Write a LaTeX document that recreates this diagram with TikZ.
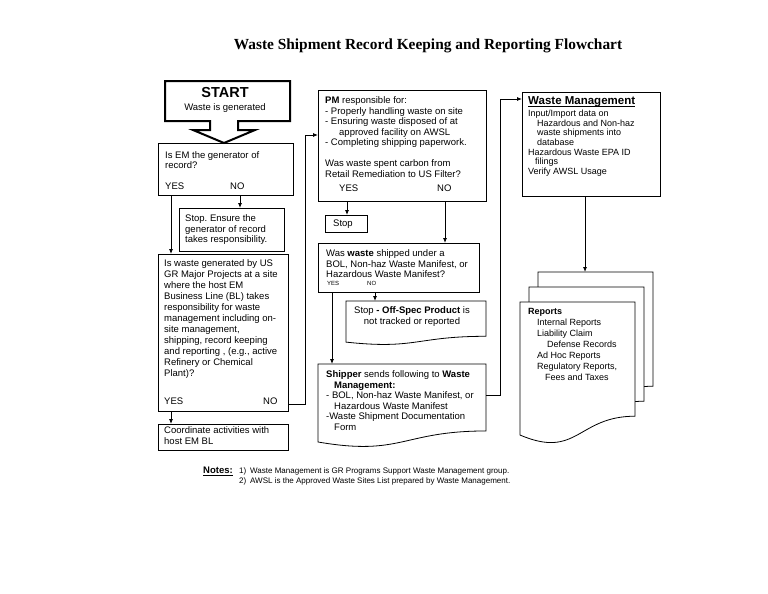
\documentclass[tikz,border=0pt]{standalone}
\usepackage{fontspec}
\setmainfont{Liberation Sans}
\newfontfamily\titlefont{Liberation Serif}
\usetikzlibrary{arrows.meta,calc}
\frenchspacing
\newcommand\docshape[4]{%
  \draw[line width=0.8pt, fill=white] (#1,#2) -- ({#1+#3},#2) -- ({#1+#3},{#2+0.802*#4})
    .. controls ({#1+#3/2},{#2+0.802*#4}) and ({#1+#3/2},{#2+1.107*#4}) .. (#1,{#2+0.934*#4}) -- cycle;}
\begin{document}
\begin{tikzpicture}[x=1pt,y=-1pt,
  box/.style={draw, line width=0.8pt, rectangle, inner sep=0pt, anchor=north west},
  area/.style={rectangle, inner sep=0pt, anchor=north west},
  txt/.style={inner sep=0pt, anchor=north west, align=left, font=\fontsize{9.5}{10.5}\selectfont},
  txtb/.style={inner sep=0pt, anchor=base west, font=\fontsize{9.5}{10.5}\selectfont},
  small/.style={inner sep=0pt, anchor=north west, align=left, font=\fontsize{9}{9.6}\selectfont},
  tiny/.style={inner sep=0pt, anchor=base west, font=\fontsize{6}{7}\selectfont},
  note/.style={inner sep=0pt, anchor=base west, font=\fontsize{8}{9}\selectfont},
  arr/.style={line width=0.8pt, -{Latex[length=5pt,width=4pt]}},
]
\useasboundingbox (0,0) rectangle (768,594);

% title
\node[inner sep=0pt, anchor=base, font=\titlefont\bfseries\fontsize{15.4}{18}\selectfont] (title) at (428,49)
  {Waste Shipment Record Keeping and Reporting Flowchart};

% START block arrow
\node[area, minimum width=125, minimum height=40] (start) at (165,81) {};
\draw[line width=2pt, line join=miter] (165,81) -- (290,81) -- (290,121) -- (238,121) -- (238,130) -- (255,130)
  -- (224,143) -- (193,130) -- (210,130) -- (210,121) -- (165,121) -- cycle;
\node[inner sep=0pt, anchor=base, font=\bfseries\fontsize{14.5}{16}\selectfont] (startt) at (225,97) {START};
\node[inner sep=0pt, anchor=base, font=\fontsize{9.5}{11}\selectfont] (startw) at (225,110) {Waste is generated};

% EM generator question
\node[box, minimum width=135, minimum height=52] (em) at (158,143) {};
\node[txt] (emt) at (165,151) {Is EM the generator of\\record?};
\node[txtb] (emyes) at (165,189.5) {YES};
\node[txtb] (emno) at (230,189.5) {NO};

% stop: ensure generator
\node[box, minimum width=105, minimum height=43] (stop) at (179,208) {};
\node[txt] (stopt) at (185,214.5) {Stop. Ensure the\\generator of record\\takes responsibility.};

% US GR major projects question
\node[box, minimum width=130, minimum height=157] (q2) at (158,254) {};
\node[txt, font=\fontsize{9.5}{11}\selectfont] (q2t) at (164,259.5) {Is waste generated by US\\GR Major Projects at a site\\where the host EM\\Business Line (BL) takes\\responsibility for waste\\management including on-\\site management,\\shipping, record keeping\\and reporting , (e.g., active\\Refinery or Chemical\\Plant)?};
\node[txtb] (q2yes) at (164,404.5) {YES};
\node[txtb] (q2no) at (263,404.5) {NO};

% coordinate activities
\node[box, minimum width=130, minimum height=26] (coord) at (158,424) {};
\node[txt, font=\fontsize{9.5}{11}\selectfont] (coordt) at (164,426.5) {Coordinate activities with\\host EM BL};

% PM box
\node[box, minimum width=168, minimum height=111] (pm) at (318,90) {};
\node[txt] (pmt) at (325,96.5) {\textbf{PM} responsible for:\\- Properly handling waste on site\\- Ensuring waste disposed of at\\\hspace*{14pt}approved facility on AWSL\\- Completing shipping paperwork.};
\node[txt] (pmq) at (325,159.5) {Was waste spent carbon from\\Retail Remediation to US Filter?};
\node[txtb] (pmyes) at (339,191.5) {YES};
\node[txtb] (pmno) at (437,191.5) {NO};

% stop (carbon)
\node[box, minimum width=42, minimum height=17] (stop2) at (325,215) {};
\node[txtb] (stop2t) at (333,226.5) {Stop};

% shipped question
\node[box, minimum width=161, minimum height=49] (ship) at (318,243) {};
\node[txt] (shipt) at (326,249.5) {Was \textbf{waste} shipped under a\\BOL, Non-haz Waste Manifest, or\\Hazardous Waste Manifest?};
\node[tiny] (shipyes) at (327,285.5) {YES};
\node[tiny] (shipno) at (367,285.5) {NO};

% off-spec document
\node[area, minimum width=140, minimum height=44] (off) at (346,301) {};
\docshape{346}{301}{140}{44}
\node[inner sep=0pt, anchor=north, align=center, font=\fontsize{9.5}{11}\selectfont] (offt) at (412,306.5)
  {Stop \textbf{- Off-Spec Product} is\\not tracked or reported};

% shipper document
\node[area, minimum width=168, minimum height=83.5] (shipper) at (318,364) {};
\docshape{318}{364}{168}{83.5}
\node[txt] (shippert) at (326,370.5) {\textbf{Shipper} sends following to \textbf{Waste}\\\hspace*{8pt}\textbf{Management:}\\- BOL, Non-haz Waste Manifest, or\\\hspace*{8pt}Hazardous Waste Manifest\\-Waste Shipment Documentation\\\hspace*{8pt}Form};

% Waste Management box
\node[box, minimum width=138, minimum height=104] (wm) at (522,92) {};
\node[inner sep=0pt, anchor=base west, font=\bfseries\fontsize{11.5}{13}\selectfont] (wmh) at (528,104.5) {Waste Management};
\draw[line width=0.9pt] ($(wmh.base west)+(0,2.2)$) -- ($(wmh.base east)+(0,2.2)$);
\node[small] (wmt) at (528,110) {Input/Import data on\\\hspace*{9pt}Hazardous and Non-haz\\\hspace*{9pt}waste shipments into\\\hspace*{9pt}database\\Hazardous Waste EPA ID\\\hspace*{7pt}filings\\Verify AWSL Usage};

% Reports stack
\node[area, minimum width=115, minimum height=142.4] (rep) at (538,272) {};
\docshape{538}{272}{115}{142.4}
\docshape{529}{287}{115}{142.4}
\node[area, minimum width=115, minimum height=142.4] (repf) at (520,302) {};
\docshape{520}{302}{115}{142.4}
\node[small, font=\fontsize{9}{11}\selectfont] (rept) at (528,308) {\textbf{Reports}\\\hspace*{9pt}Internal Reports\\\hspace*{9pt}Liability Claim\\\hspace*{19pt}Defense Records\\\hspace*{9pt}Ad Hoc Reports\\\hspace*{9pt}Regulatory Reports,\\\hspace*{17pt}Fees and Taxes};

% Notes
\node[inner sep=0pt, anchor=base west, font=\bfseries\fontsize{9.5}{11}\selectfont] (notes) at (203,473.5) {Notes:};
\draw[line width=0.8pt] ($(notes.base west)+(0,2)$) -- ($(notes.base east)+(0,2)$);
\node[note] (n1n) at (239,473) {1)};
\node[note] (n1) at (250,473) {Waste Management is GR Programs Support Waste Management group.};
\node[note] (n2n) at (239,483) {2)};
\node[note] (n2) at (250,483) {AWSL is the Approved Waste Sites List prepared by Waste Management.};

% connectors
\draw[arr] ($(em.south west)+(82,0)$) coordinate (p1) -- (p1 |- stop.north);
\draw[arr] ($(em.south west)+(13,0)$) coordinate (p2) -- (p2 |- q2.north);
\draw[arr] ($(q2.south west)+(13,0)$) coordinate (p3) -- (p3 |- coord.north);
\draw[arr] ($(q2.south east)+(0,-7)$) -- ++(17,0) |- ($(pm.north west)+(0,45)$);
\draw[arr] ($(pm.south west)+(29,0)$) coordinate (p5) -- (p5 |- stop2.north);
\draw[arr] ($(pm.south west)+(127,0)$) coordinate (p6) -- (p6 |- ship.north);
\draw[arr] ($(ship.south west)+(57,0)$) coordinate (p7) -- (p7 |- off.north);
\draw[arr] ($(ship.south west)+(14,0)$) coordinate (p8) -- (p8 |- shipper.north);
\draw[arr] ($(shipper.north east)+(0,31)$) -- ++(14,0) |- ($(wm.north west)+(0,7)$);
\draw[arr] ($(wm.south west)+(63,0)$) coordinate (p10) -- (p10 |- rep.north);
\end{tikzpicture}
\end{document}
